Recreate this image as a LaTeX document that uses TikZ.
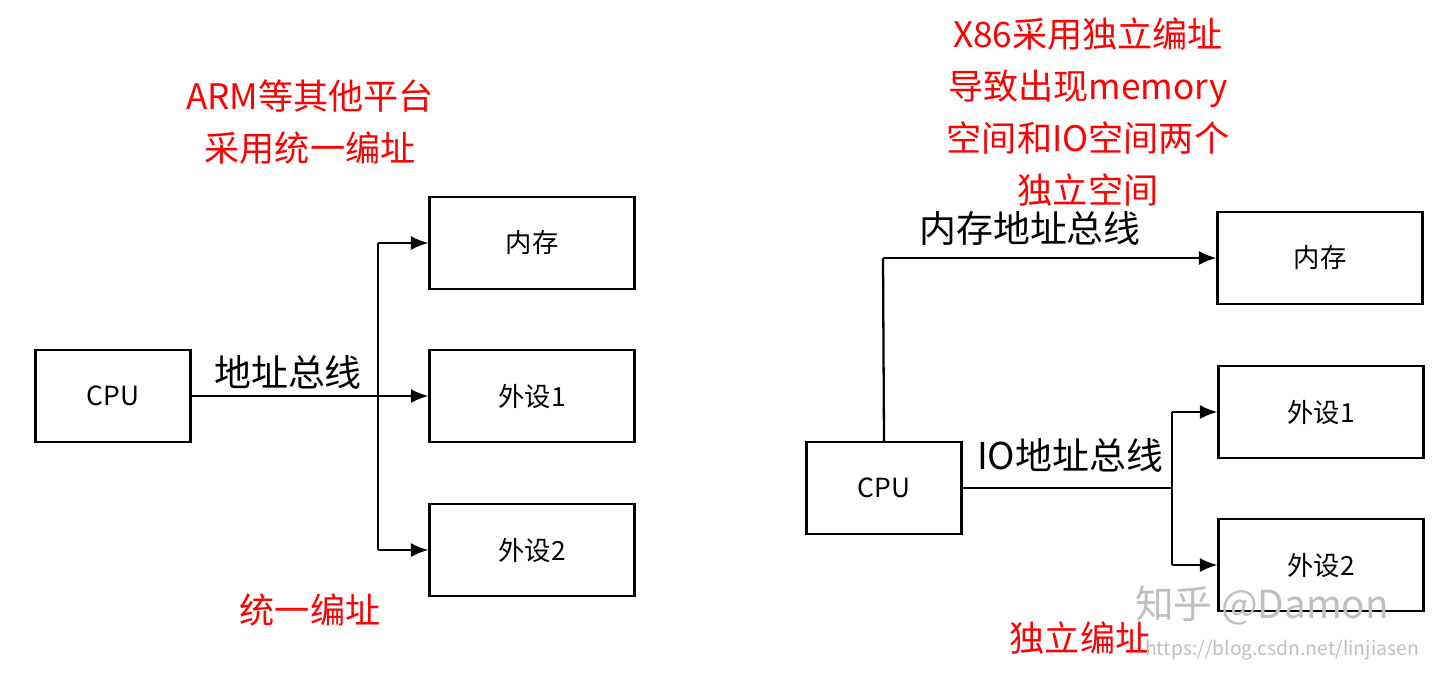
\documentclass[tikz,border=0pt]{standalone}
\usepackage{fontspec}
\setmainfont{Noto Sans CJK SC}
\usetikzlibrary{arrows.meta}
\begin{document}
\begin{tikzpicture}[x=0.02cm,y=-0.02cm,
 box/.style={draw,line width=1.2pt,minimum width=4.1cm,minimum height=1.84cm,inner sep=0pt,font=\fontsize{15}{17}\selectfont},
 cbox/.style={draw,line width=1.2pt,minimum width=3.1cm,minimum height=1.84cm,inner sep=0pt,font=\fontsize{15}{17}\selectfont},
 red/.style={text=red,font=\fontsize{20}{29.5}\selectfont,align=center},
 lab/.style={font=\fontsize{21}{24}\selectfont},
 wire/.style={line width=1.3pt},
 arr/.style={wire,-{Latex[length=10pt,width=8pt]}}]
\useasboundingbox (0,0) rectangle (1440,674);
% left
\node[cbox] (cpu1) at (113,396) {CPU};
\node[box] (m1) at (532,243) {内存};
\node[box] (p11) at (532,396) {外设1};
\node[box] (p12) at (532,550) {外设2};
\coordinate (t1) at (378,243);
\coordinate (b1) at (378,550);
\draw[wire] (t1) -- (b1);
\draw[arr] (t1) -- (m1.west);
\draw[arr] (b1) -- (p12.west);
\draw[arr] (cpu1.east) -- (p11.west);
\node[lab] (l1) at (288,372) {地址总线};
\node[red] (r1) at (310,122) {ARM等其他平台\\采用统一编址};
\node[red] (r2) at (310,610) {统一编址};
% right
\node[cbox] (cpu2) at (884,488) {CPU};
\node[box] (m2) at (1320,258) {内存};
\node[box] (p21) at (1321,412) {外设1};
\node[box] (p22) at (1321,565) {外设2};
\coordinate (c2) at (883,258);
\draw[wire] (cpu2.north) -- (c2);
\draw[arr] (c2) -- (m2.west);
\coordinate (j) at (1172,488);
\coordinate (t2) at (1172,412);
\coordinate (b2) at (1172,565);
\draw[wire] (cpu2.east) -- (j);
\draw[wire] (t2) -- (b2);
\draw[arr] (t2) -- (p21.west);
\draw[arr] (b2) -- (p22.west);
\node[lab] (l2) at (1030,228) {内存地址总线};
\node[lab] (l3) at (1070,455) {IO地址总线};
\node[red] (r3) at (1088,112) {X86采用独立编址\\导致出现memory\\空间和IO空间两个\\独立空间};
\node[red] (r4) at (1080,638) {独立编址};
% watermarks
\node[text=black!25,font=\fontsize{22}{24}\selectfont] (w1) at (1262,606) {知乎 @Damon};
\node[text=black!25,font=\fontsize{11}{13}\selectfont] (w2) at (1282,650) {https://blog.csdn.net/linjiasen};
\end{tikzpicture}
\end{document}
